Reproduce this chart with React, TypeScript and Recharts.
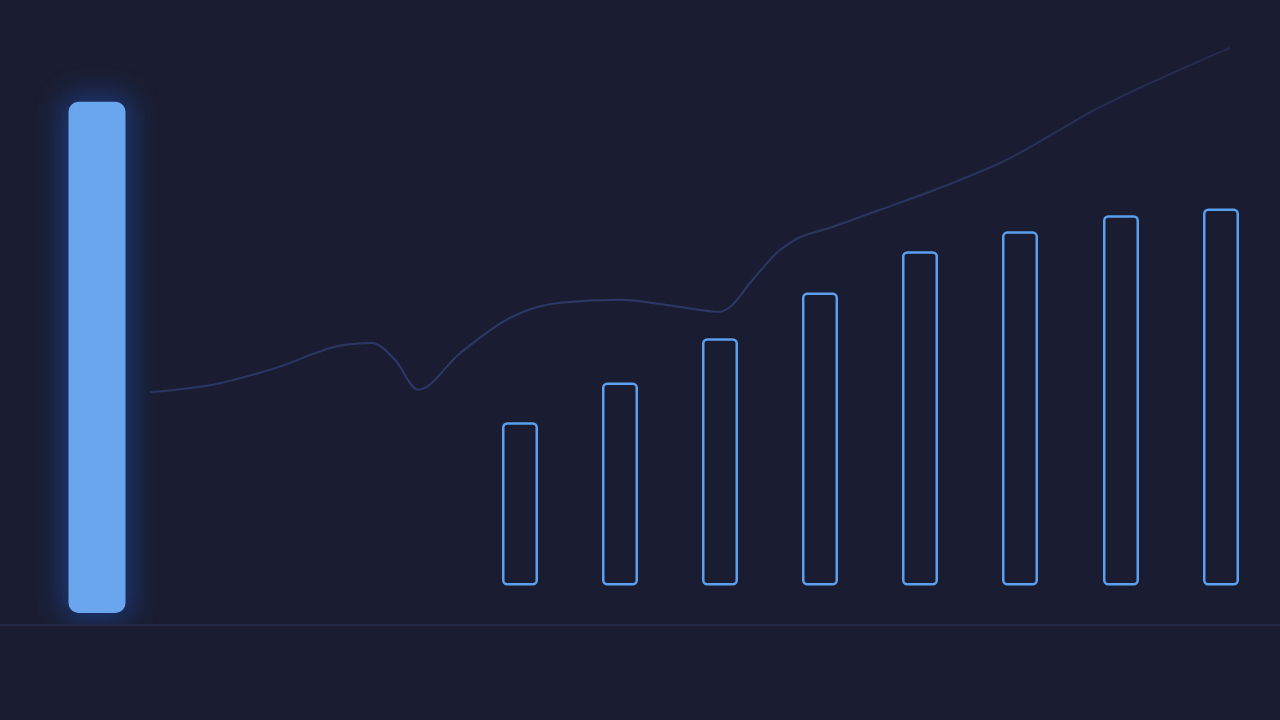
import React from 'react';
import { ComposedChart, Bar, Line, XAxis, YAxis, ReferenceLine } from 'recharts';

// Bars: first is the overall total, the rest are period values (floating ranges)
const barKinds = ['total', 'period', 'period', 'period', 'period', 'period', 'period', 'period', 'period'];
const barTimes = [0.97, 5.2, 6.2, 7.2, 8.2, 9.2, 10.2, 11.21, 12.21];
const barLows = [2, 6.8, 6.8, 6.8, 6.8, 6.8, 6.8, 6.8, 6.8];
const barHighs = [87.2, 33.6, 40.2, 47.6, 55.2, 62.1, 65.4, 68.1, 69.2];

// Trend line
const lineTimes = [1.5, 2.2, 2.75, 3.45, 3.72, 3.95, 4.18, 4.6, 5.1, 5.6, 6.2, 6.8, 7.2, 7.3, 7.5, 7.8, 7.95, 8.3, 8.8, 9.5, 10.0, 11.0, 12.3];
const lineValues = [38.8, 40.3, 42.8, 46.7, 47.0, 44.2, 39.2, 45.3, 51.2, 53.7, 54.2, 53.0, 52.2, 53.0, 57.0, 62.5, 64.2, 66.2, 69.2, 73.5, 77.0, 86.3, 96.2];

const barData = barKinds.map((kind, i) => ({ t: barTimes[i], kind, range: [barLows[i], barHighs[i]] }));
const lineData = lineTimes.map((t, i) => ({ t, v: lineValues[i] }));

const BG = '#1a1d31';

const BarShape = (props: any) => {
  const { x, y, width, height, payload } = props;
  if (payload.kind === 'total') {
    const w = 57;
    const cx = x + width / 2;
    return (
      <g>
        <rect x={cx - w / 2 - 6} y={y - 6} width={w + 12} height={height + 12} rx={14} fill="#1e4fb8" opacity={0.55} filter="url(#glow)" />
        <rect x={cx - w / 2} y={y} width={w} height={height} rx={10} fill="#6aa6ee" />
      </g>
    );
  }
  return (
    <rect x={x + 1.25} y={y} width={width - 2.5} height={height} rx={4} fill={BG} stroke="#5b9ff0" strokeWidth={2.5} />
  );
};

export default function App() {
  return (
    <div style={{ position: 'fixed', left: 0, top: 0, width: 1280, height: 720, background: BG, overflow: 'hidden' }}>
      <ComposedChart width={1280} height={720} data={barData} margin={{ top: 25, right: 0, bottom: 95, left: 0 }}>
        <defs>
          <filter id="glow" x="-150%" y="-20%" width="400%" height="140%">
            <feGaussianBlur stdDeviation="14" />
          </filter>
          <linearGradient id="lineGrad" x1="0" y1="0" x2="1" y2="0">
            <stop offset="0%" stopColor="#29336080" />
            <stop offset="0%" stopColor="#2a3462" />
            <stop offset="40%" stopColor="#2e3968" />
            <stop offset="70%" stopColor="#2a3460" />
            <stop offset="100%" stopColor="#232b4b" />
          </linearGradient>
        </defs>
        <XAxis xAxisId="bars" dataKey="t" type="number" domain={[0, 12.8]} hide allowDataOverflow />
        <XAxis xAxisId="line" dataKey="t" type="number" domain={[0, 12.8]} hide allowDataOverflow />
        <YAxis type="number" domain={[0, 100]} hide allowDataOverflow />
        <ReferenceLine xAxisId="bars" y={0} stroke="#212843" strokeWidth={2} />
        <Line
          xAxisId="line"
          data={lineData}
          dataKey="v"
          type="monotone"
          stroke="url(#lineGrad)"
          strokeWidth={2}
          dot={false}
          activeDot={false}
          isAnimationActive={false}
        />
        <Bar xAxisId="bars" dataKey="range" barSize={36} shape={BarShape} isAnimationActive={false} />
      </ComposedChart>
    </div>
  );
}
